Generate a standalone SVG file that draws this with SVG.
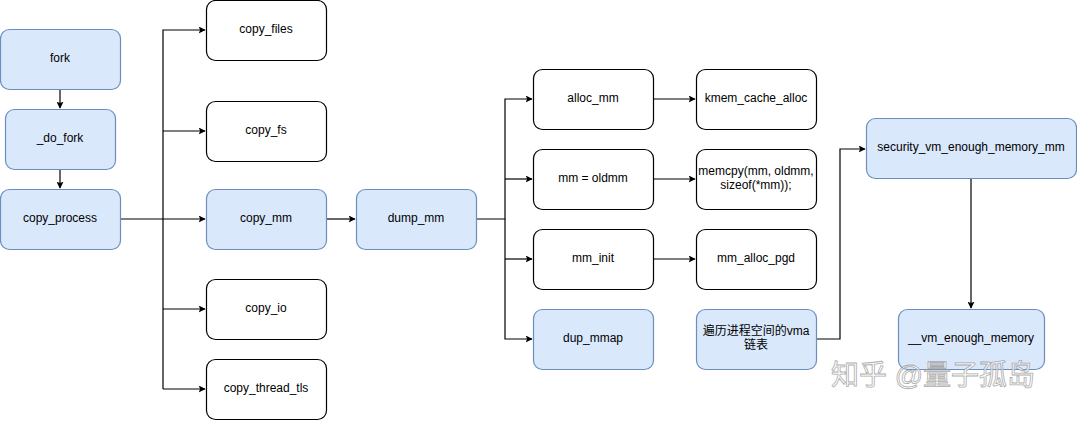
<svg xmlns="http://www.w3.org/2000/svg" width="1077" height="421" viewBox="0 0 1077 421">
<style>
rect{stroke-width:1.2}
.b{fill:#dae8fc;stroke:#6c8ebf}
.w{fill:#fff;stroke:#000}
text{font-family:"Liberation Sans","Noto Sans CJK SC",sans-serif;font-size:12px;text-anchor:middle;dominant-baseline:middle;fill:#000}
.c path{fill:none;stroke:#000;stroke-width:1.2;marker-end:url(#a)}
</style>
<defs><marker id="a" viewBox="0 0 10 10" refX="9" refY="5" markerWidth="7" markerHeight="7" orient="auto" markerUnits="userSpaceOnUse"><path d="M0 0L10 5L0 10L2 5Z" fill="#000"/></marker></defs>
<rect width="1077" height="421" fill="#fff"/>
<g class="c">
<path d="M60 89V108"/><path d="M60 169V188"/>
<path d="M120 219H205"/>
<path d="M163 389V30H205"/><path d="M163 131H205"/><path d="M163 309H205"/><path d="M163 389H205"/>
<path d="M326 219H355"/>
<path d="M476 219H505V99H532"/><path d="M505 179H532"/><path d="M505 259H532"/><path d="M505 219V339H532"/>
<path d="M653 99H695"/><path d="M653 179H695"/><path d="M653 259H695"/>
<path d="M816 339H840V149H865"/>
<path d="M971 179V308"/>
</g>
<g id="fork"><rect class="b" x="0.5" y="29.5" width="120" height="60" rx="9"/><text x="60" y="59">fork</text></g>
<g id="do_fork"><rect class="b" x="5.5" y="109.5" width="110" height="60" rx="9"/><text x="60" y="139">_do_fork</text></g>
<g id="copy_process"><rect class="b" x="0.5" y="189.5" width="120" height="60" rx="9"/><text x="60" y="219">copy_process</text></g>
<g id="copy_files"><rect class="w" x="206.5" y="0.5" width="120" height="60" rx="9"/><text x="266" y="30">copy_files</text></g>
<g id="copy_fs"><rect class="w" x="206.5" y="101.5" width="120" height="60" rx="9"/><text x="266" y="131">copy_fs</text></g>
<g id="copy_mm"><rect class="b" x="206.5" y="189.5" width="120" height="60" rx="9"/><text x="266" y="219">copy_mm</text></g>
<g id="copy_io"><rect class="w" x="206.5" y="279.5" width="120" height="60" rx="9"/><text x="266" y="309">copy_io</text></g>
<g id="copy_thread_tls"><rect class="w" x="206.5" y="359.5" width="120" height="60" rx="9"/><text x="266" y="389">copy_thread_tls</text></g>
<g id="dump_mm"><rect class="b" x="356.5" y="189.5" width="120" height="60" rx="9"/><text x="416" y="219">dump_mm</text></g>
<g id="alloc_mm"><rect class="w" x="533.5" y="69.5" width="120" height="60" rx="9"/><text x="593" y="99">alloc_mm</text></g>
<g id="mm_oldmm"><rect class="w" x="533.5" y="149.5" width="120" height="60" rx="9"/><text x="593" y="179">mm = oldmm</text></g>
<g id="mm_init"><rect class="w" x="533.5" y="229.5" width="120" height="60" rx="9"/><text x="593" y="259">mm_init</text></g>
<g id="dup_mmap"><rect class="b" x="533.5" y="309.5" width="120" height="60" rx="9"/><text x="593" y="339">dup_mmap</text></g>
<g id="kmem"><rect class="w" x="696.5" y="69.5" width="120" height="60" rx="9"/><text x="756" y="99">kmem_cache_alloc</text></g>
<g id="memcpy"><rect class="w" x="696.5" y="149.5" width="120" height="60" rx="9"/><text x="756" y="172">memcpy(mm, oldmm,</text><text x="756" y="186">sizeof(*mm));</text></g>
<g id="pgd"><rect class="w" x="696.5" y="229.5" width="120" height="60" rx="9"/><text x="756" y="259">mm_alloc_pgd</text></g>
<g id="vma"><rect class="b" x="696.5" y="309.5" width="120" height="60" rx="9"/><text x="756" y="332">遍历进程空间的vma</text><text x="756" y="346">链表</text></g>
<g id="security"><rect class="b" x="866.5" y="118.5" width="210" height="60" rx="9"/><text x="971" y="148">security_vm_enough_memory_mm</text></g>
<g id="vm_enough"><rect class="b" x="898.5" y="309.5" width="146" height="60" rx="9"/><text x="971" y="339">__vm_enough_memory</text></g>
<text x="933" y="378" style="font-size:28px;fill:#fff;stroke:#999;stroke-width:0.8;opacity:0.8">知乎 @量子孤岛</text>
</svg>
